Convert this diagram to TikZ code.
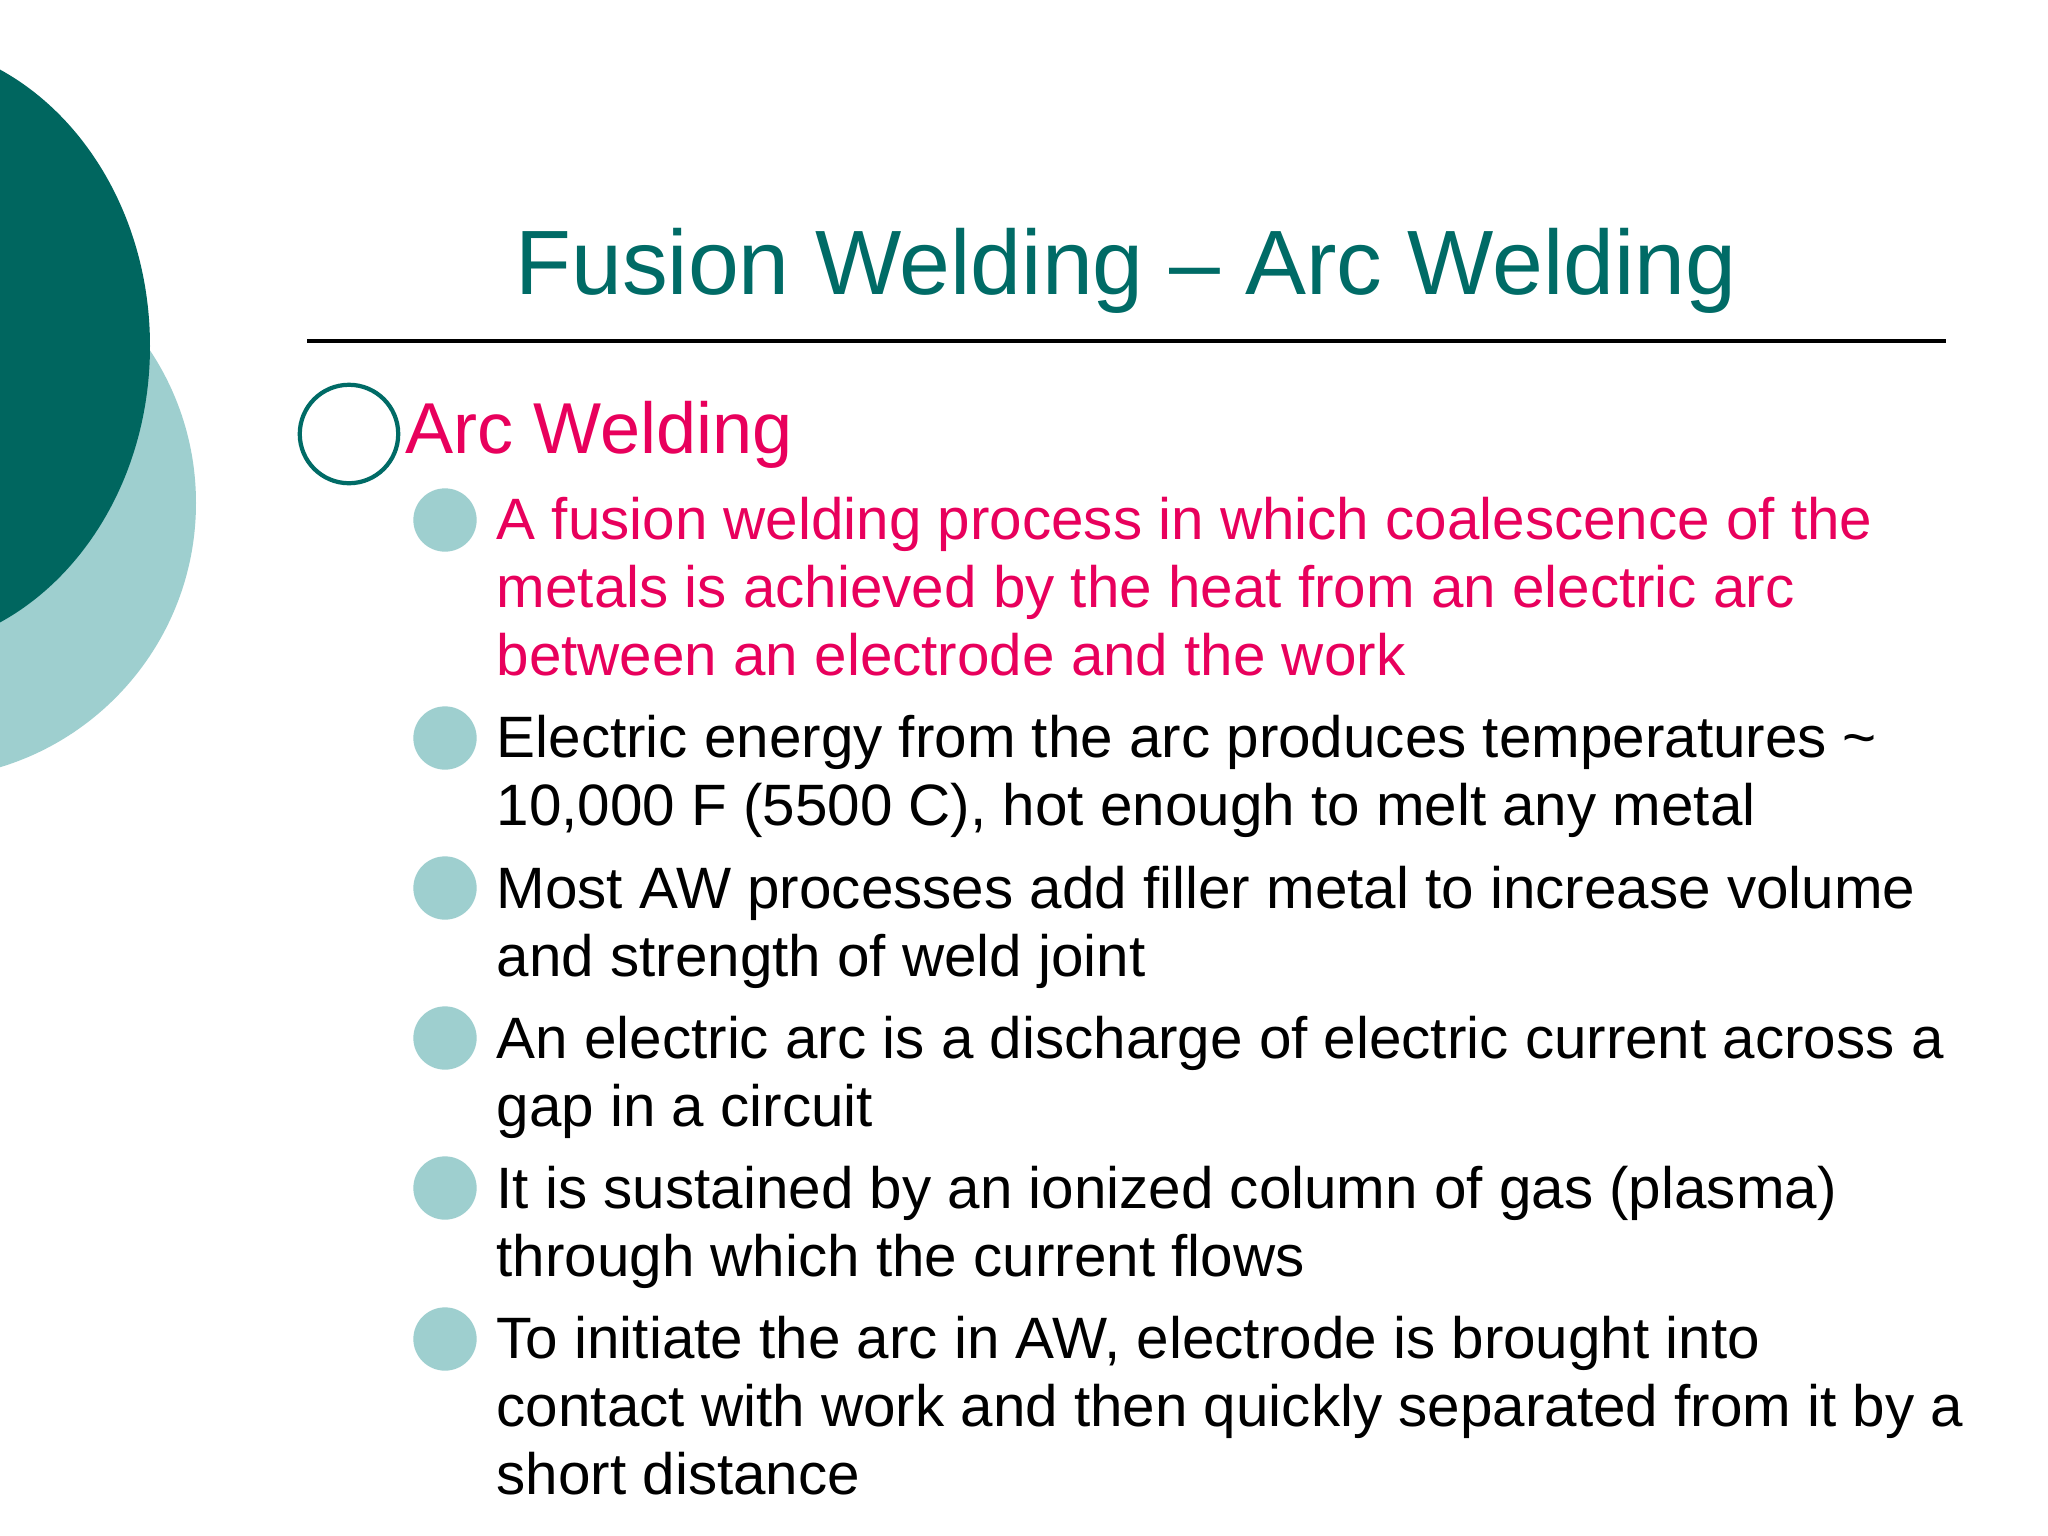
\documentclass[tikz,border=0pt]{standalone}
\usepackage{fontspec}
\setmainfont{Liberation Sans}
\definecolor{tealdark}{HTML}{00665F}
\definecolor{teallight}{HTML}{9ECFCF}
\definecolor{titleteal}{HTML}{006B66}
\definecolor{arcpink}{HTML}{E8005C}
\begin{document}
\begin{tikzpicture}[x=0.01cm,y=-0.01cm,
  TitleStyle/.style = {anchor=base,inner sep=0pt,text=titleteal,font=\fontsize{26}{30}\selectfont},
  HeadStyle/.style = {anchor=base west,inner sep=0pt,text=arcpink,font=\fontsize{20.5}{24}\selectfont},
  ItemStyle/.style = {anchor=north west,inner sep=0pt,align=left,font=\fontsize{16.6}{19.4}\selectfont},
  DotStyle/.style = {circle,fill=teallight,minimum size=18,inner sep=0pt}]
\useasboundingbox[fill=white] (0,0) rectangle (2048,1536);
% background circles
\fill[teallight] (-80,503) circle (276);
\fill[tealdark] (-110,346) ellipse (260 and 305);
% title and rule
\node[TitleStyle] (title) at (1126,294) {Fusion Welding – Arc Welding};
\coordinate (ruleL) at (307,341);
\coordinate (ruleR) at (1946,341);
\draw[line width=1.3pt] (ruleL) -- (ruleR);
% heading
\node[circle,draw=titleteal,line width=1.2pt,minimum size=28,inner sep=0pt] (hb) at (349,434) {};
\node[HeadStyle] (head) at (405,453) {Arc Welding};
% bullets
\foreach \y/\n in {520/1,738/2,888/3,1038/4,1188/5,1339/6}
  \node[DotStyle] (d\n) at (445,\y) {};
\node[ItemStyle,text=arcpink] (i1) at (496,496) {A fusion welding process in which coalescence of the\\metals is achieved by the heat from an electric arc\\between an electrode and the work};
\node[ItemStyle] (i2) at (496,714) {Electric energy from the arc produces temperatures \char`~\\10,000 F (5500 C), hot enough to melt any metal};
\node[ItemStyle] (i3) at (496,865) {Most AW processes add filler metal to increase volume\\and strength of weld joint};
\node[ItemStyle] (i4) at (496,1015) {An electric arc is a discharge of electric current across a\\gap in a circuit};
\node[ItemStyle] (i5) at (496,1165) {It is sustained by an ionized column of gas (plasma)\\through which the current flows};
\node[ItemStyle] (i6) at (496,1315) {To initiate the arc in AW, electrode is brought into\\contact with work and then quickly separated from it by a\\short distance};
\end{tikzpicture}
\end{document}
